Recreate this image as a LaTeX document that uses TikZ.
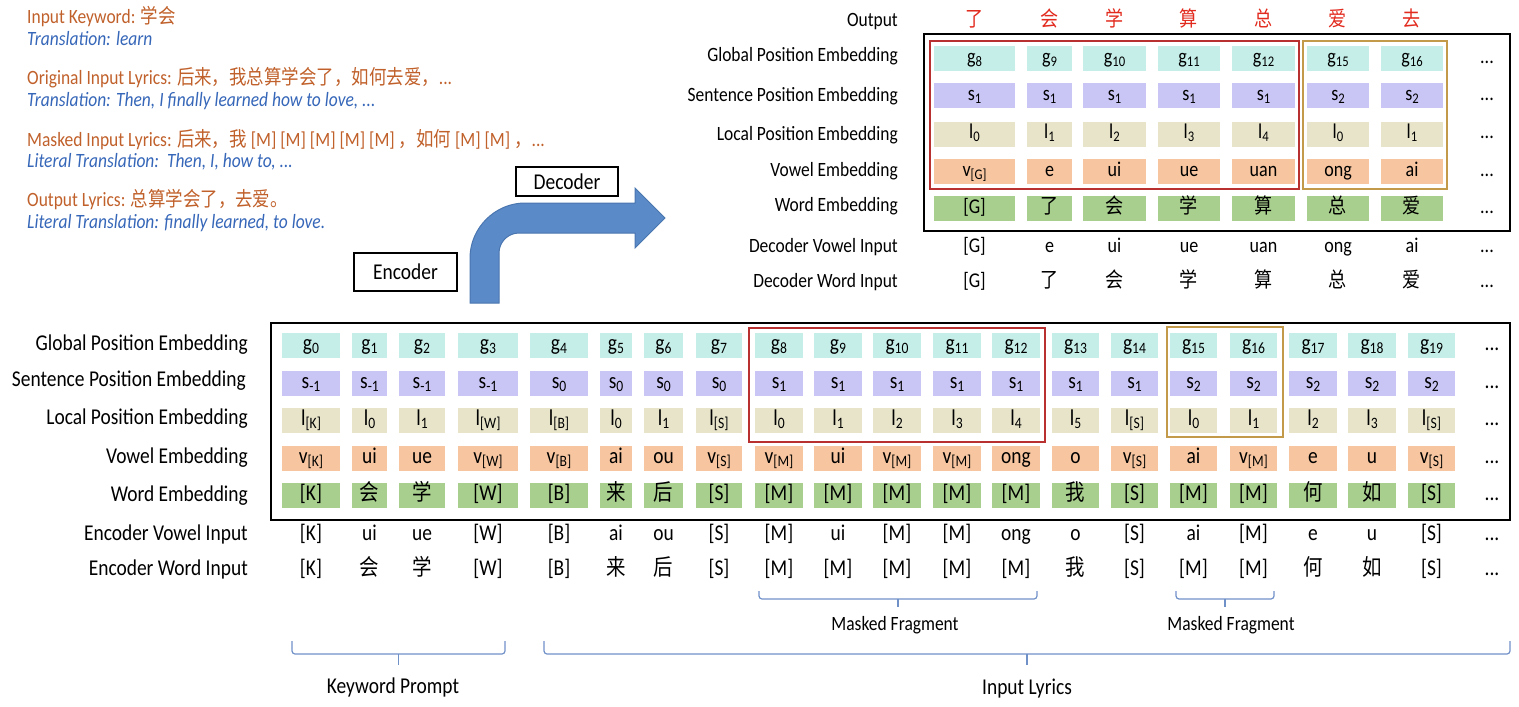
\documentclass[tikz,border=0pt]{standalone}
\usepackage{fontspec}
\setmainfont{Carlito}[FakeStretch=0.86]
\newfontfamily\cjk{Noto Sans CJK SC}[FakeStretch=0.86]
\definecolor{gcol}{HTML}{C5EEE9}
\definecolor{scol}{HTML}{C9C6F6}
\definecolor{lcol}{HTML}{E7E4CA}
\definecolor{vcol}{HTML}{F7C6A0}
\definecolor{wcol}{HTML}{A8CF8E}
\definecolor{redbox}{HTML}{B83030}
\definecolor{goldbox}{HTML}{C39A4A}
\definecolor{outred}{HTML}{E22B1F}
\definecolor{tbrown}{HTML}{C0602A}
\definecolor{tblue}{HTML}{3566B8}
\definecolor{arrowc}{HTML}{5B8AC8}
\definecolor{arrowd}{HTML}{4A76B0}
\definecolor{bracec}{HTML}{7090C8}
\newcommand\efont{\fontsize{22.6}{26}\selectfont}
\newcommand\dfont{\fontsize{21}{25}\selectfont}
\newcommand\dlfont{\fontsize{20.3}{24}\selectfont}
\newcommand\tlfont{\fontsize{20.3}{24}\selectfont}
\newcommand\subx[1]{\raisebox{-0.32ex}{\scalebox{0.7}{#1}}}
\newcommand\enccol[9]{%
 \node[gbox,minimum width=#3] (e#1g) at (#2,345.5) {g\subx{#1}};
 \node[sbox,minimum width=#3] (e#1s) at (#2,383.5) {s\subx{#4}};
 \node[lbox,minimum width=#3] (e#1l) at (#2,420.5) {l\subx{#5}};
 \node[vbox,minimum width=#3] (e#1v) at (#2,458.5) {#6};
 \node[wbox,minimum width=#3] (e#1w) at (#2,495.5) {#7};
 \node[etext] (e#1vi) at (#2,535) {#8};
 \node[etext] (e#1wi) at (#2,570) {#9};
}
\newcommand\deccol[9]{%
 \node[dgbox,minimum width=#2] (d#3g) at (#1,58.5) {g\subx{#3}};
 \node[dsbox,minimum width=#2] (d#3s) at (#1,95.5) {s\subx{#4}};
 \node[dlbox,minimum width=#2] (d#3l) at (#1,134) {l\subx{#5}};
 \node[dvbox,minimum width=#2] (d#3v) at (#1,171.5) {#6};
 \node[dwbox,minimum width=#2] (d#3w) at (#1,208.5) {#8};
 \node[dtext] (d#3vi) at (#1,248) {#7};
 \node[dtext] (d#3wi) at (#1,283) {#8};
 \node[dtext,text=outred] (d#3o) at (#1,22) {#9};
}
\newcommand\drawbrace[5]{%
 \draw[bracec, line width=1.2pt, rounded corners=3pt] (#1,#3) -- (#1,#4) -- (#2,#4) -- (#2,#3);
 \draw[bracec, line width=1.2pt] ({(#1+#2)/2},#4) -- ({(#1+#2)/2},#5);
}
\begin{document}
\begin{tikzpicture}[x=1pt,y=-1pt,
  cell/.style={inner sep=0pt, minimum height=25pt, text height=15pt, text depth=5pt, font=\efont},
  gbox/.style={cell, fill=gcol}, sbox/.style={cell, fill=scol}, lbox/.style={cell, fill=lcol},
  vbox/.style={cell, fill=vcol}, wbox/.style={cell, fill=wcol},
  dcell/.style={inner sep=0pt, minimum height=25pt, text height=14pt, text depth=5pt, font=\dfont},
  dgbox/.style={dcell, fill=gcol}, dsbox/.style={dcell, fill=scol}, dlbox/.style={dcell, fill=lcol},
  dvbox/.style={dcell, fill=vcol}, dwbox/.style={dcell, fill=wcol},
  etext/.style={inner sep=0pt, text height=15pt, text depth=5pt, font=\efont},
  dtext/.style={inner sep=0pt, text height=14pt, text depth=5pt, font=\dfont},
  elabel/.style={anchor=east, inner sep=0pt, text height=15pt, text depth=5pt, font=\efont},
  dlabel/.style={anchor=east, inner sep=0pt, text height=14pt, text depth=5pt, font=\dlfont},
  tl/.style={anchor=west, inner sep=0pt, text height=14pt, text depth=5pt, font=\tlfont},
  tlb/.style={tl, text=tbrown}, tli/.style={tl, text=tblue, font=\tlfont\itshape},
  codebox/.style={draw, line width=1.2pt, inner sep=0pt, font=\efont},
  frame/.style={line width=2.2pt},
  redfr/.style={draw=redbox, line width=2pt},
  goldfr/.style={draw=goldbox, line width=2pt}
]
\useasboundingbox (0,0) rectangle (1519,707);

% top-left text
\node[tlb] (t1) at (27,19) {Input Keyword: {\cjk 学会}};
\node[tli] (t2) at (27,41) {Translation: learn};
\node[tlb] (t3) at (27,80) {Original Input Lyrics: {\cjk 后来，我总算学会了，如何去爱，}...};
\node[tli] (t4) at (27,102) {Translation: Then, I finally learned how to love, ...};
\node[tlb] (t5) at (27,142) {Masked Input Lyrics: {\cjk 后来，我} [M] [M] [M] [M] [M] {\cjk ，如何} [M] [M] {\cjk ，}...};
\node[tli] (t6) at (27,163) {Literal Translation:\ \ Then, I, how to, ...};
\node[tlb] (t7) at (27,202) {Output Lyrics: {\cjk 总算学会了，去爱。}};
\node[tli] (t8) at (27,224) {Literal Translation: finally learned, to love.};

% bent arrow
\path[fill=arrowc, draw=arrowd, line width=1pt]
  (470,303) -- (470,258) .. controls (470,228) and (495,203) .. (525,203)
  -- (635,203) -- (635,188) -- (665,218) -- (635,248) -- (635,233) -- (519,233)
  .. controls (508,233) and (499,242) .. (499,253) -- (499,303) -- cycle;
\node[codebox, minimum width=102pt, minimum height=29pt] (decb) at (567,181.5) {Decoder};
\node[codebox, minimum width=103pt, minimum height=38pt] (encb) at (405.5,272) {Encoder};

% decoder labels
\node[dlabel] (dl0) at (898,22) {Output};
\node[dlabel] (dl1) at (898,57) {Global Position Embedding};
\node[dlabel] (dl2) at (898,97) {Sentence Position Embedding};
\node[dlabel] (dl3) at (898,136) {Local Position Embedding};
\node[dlabel] (dl4) at (898,172) {Vowel Embedding};
\node[dlabel] (dl5) at (898,207) {Word Embedding};
\node[dlabel] (dl6) at (898,248) {Decoder Vowel Input};
\node[dlabel] (dl7) at (898,283) {Decoder Word Input};

% decoder frames
\draw[frame] (924,34) rectangle (1510,231);
\deccol{974.5}{81}{8}{1}{0}{v\subx{[G]}}{[G]}{[G]}{{\cjk 了}}
\deccol{1049.5}{45}{9}{1}{1}{e}{e}{{\cjk 了}}{{\cjk 会}}
\deccol{1114.5}{63}{10}{1}{2}{ui}{ui}{{\cjk 会}}{{\cjk 学}}
\deccol{1189}{62}{11}{1}{3}{ue}{ue}{{\cjk 学}}{{\cjk 算}}
\deccol{1263.5}{63}{12}{1}{4}{uan}{uan}{{\cjk 算}}{{\cjk 总}}
\deccol{1338}{62}{15}{2}{0}{ong}{ong}{{\cjk 总}}{{\cjk 爱}}
\deccol{1412}{62}{16}{2}{1}{ai}{ai}{{\cjk 爱}}{{\cjk 去}}
\draw[redfr] (930,41) rectangle (1299,189);
\draw[goldfr] (1303,41) rectangle (1447,189);
\foreach \yy [count=\k] in {58.5,95.5,134,171.5,208.5,248,283}
  \node[dtext] (ddots\k) at (1487,\yy) {...};

% encoder labels
\node[elabel] (el1) at (248,345) {Global Position Embedding};
\node[elabel] (el2) at (246,381) {Sentence Position Embedding};
\node[elabel] (el3) at (248,419) {Local Position Embedding};
\node[elabel] (el4) at (248,458) {Vowel Embedding};
\node[elabel] (el5) at (248,496) {Word Embedding};
\node[elabel] (el6) at (248,535) {Encoder Vowel Input};
\node[elabel] (el7) at (248,570) {Encoder Word Input};

\draw[frame] (271,323) rectangle (1510,520);
\enccol{0}{311}{58}{-1}{[K]}{v\subx{[K]}}{[K]}{[K]}{[K]}
\enccol{1}{369.5}{35}{-1}{0}{ui}{{\cjk 会}}{ui}{{\cjk 会}}
\enccol{2}{422}{46}{-1}{1}{ue}{{\cjk 学}}{ue}{{\cjk 学}}
\enccol{3}{488}{60}{-1}{[W]}{v\subx{[W]}}{[W]}{[W]}{[W]}
\enccol{4}{559}{58}{0}{[B]}{v\subx{[B]}}{[B]}{[B]}{[B]}
\enccol{5}{616}{32}{0}{0}{ai}{{\cjk 来}}{ai}{{\cjk 来}}
\enccol{6}{663.5}{39}{0}{1}{ou}{{\cjk 后}}{ou}{{\cjk 后}}
\enccol{7}{719}{46}{0}{[S]}{v\subx{[S]}}{[S]}{[S]}{[S]}
\enccol{8}{779}{48}{1}{0}{v\subx{[M]}}{[M]}{[M]}{[M]}
\enccol{9}{838}{48}{1}{1}{ui}{[M]}{ui}{[M]}
\enccol{10}{897}{48}{1}{2}{v\subx{[M]}}{[M]}{[M]}{[M]}
\enccol{11}{957}{48}{1}{3}{v\subx{[M]}}{[M]}{[M]}{[M]}
\enccol{12}{1016}{48}{1}{4}{ong}{[M]}{ong}{[M]}
\enccol{13}{1075.5}{47}{1}{5}{o}{{\cjk 我}}{o}{{\cjk 我}}
\enccol{14}{1134.5}{47}{1}{[S]}{v\subx{[S]}}{[S]}{[S]}{[S]}
\enccol{15}{1193.5}{47}{2}{0}{ai}{[M]}{ai}{[M]}
\enccol{16}{1253.5}{47}{2}{1}{v\subx{[M]}}{[M]}{[M]}{[M]}
\enccol{17}{1313}{48}{2}{2}{e}{{\cjk 何}}{e}{{\cjk 何}}
\enccol{18}{1372}{48}{2}{3}{u}{{\cjk 如}}{u}{{\cjk 如}}
\enccol{19}{1431.5}{47}{2}{[S]}{v\subx{[S]}}{[S]}{[S]}{[S]}
\draw[redfr] (749,328) rectangle (1045,442);
\draw[goldfr] (1167,327) rectangle (1283,437);
\foreach \yy [count=\k] in {345.5,383.5,420.5,458.5,495.5,535,570}
  \node[etext] (edots\k) at (1492,\yy) {...};

% braces
\drawbrace{759}{1037}{591}{599}{607}
\drawbrace{1176}{1274}{591}{599}{607}
\drawbrace{292}{505}{641}{654}{665}
\drawbrace{544}{1510}{641}{654}{665}
\node[dtext, font=\dlfont] (mf1) at (895,626) {Masked Fragment};
\node[dtext, font=\dlfont] (mf2) at (1231,626) {Masked Fragment};
\node[etext] (kp) at (393,688) {Keyword Prompt};
\node[etext] (il) at (1027,689) {Input Lyrics};
\end{tikzpicture}
\end{document}
